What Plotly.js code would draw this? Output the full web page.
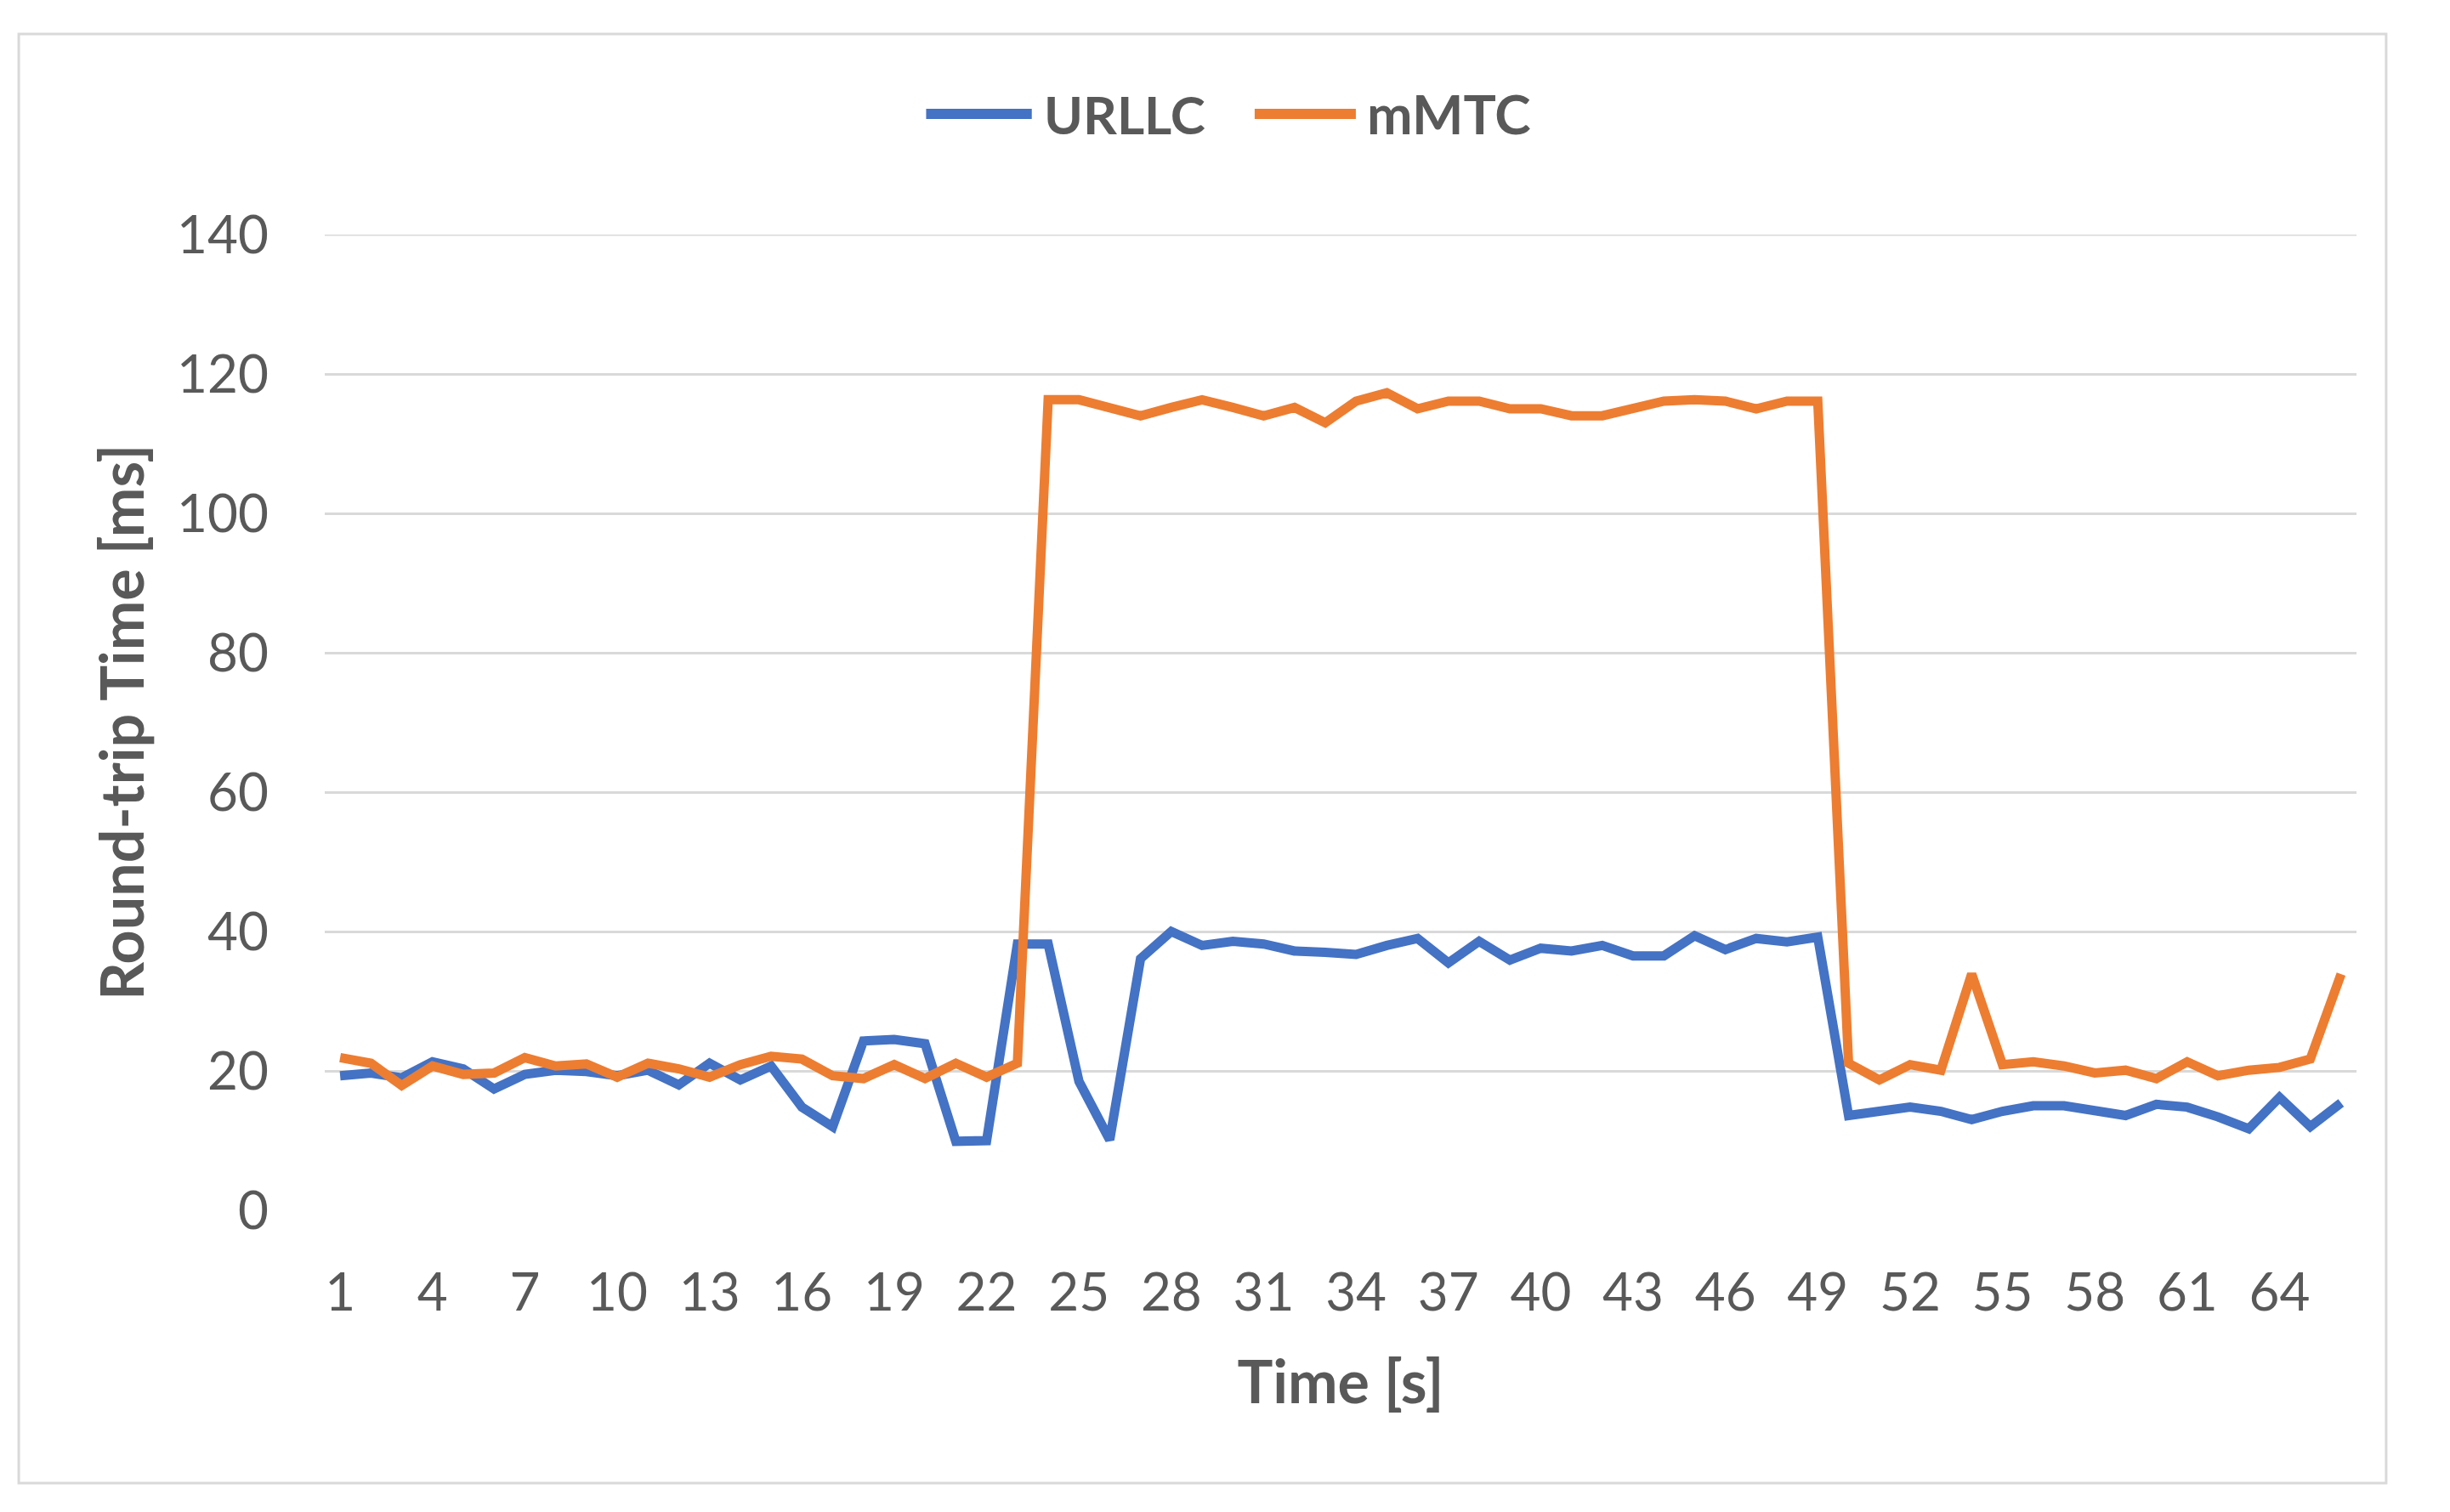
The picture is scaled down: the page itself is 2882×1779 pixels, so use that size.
<!DOCTYPE html>
<html>
<head>
<meta charset="utf-8">
<script src="https://cdn.plot.ly/plotly-3.0.1.min.js"></script>
<style>
  html, body { margin: 0; padding: 0; background: #ffffff; }
  #chart { width: 2882px; height: 1779px; }
</style>
</head>
<body>
<div id="chart"></div>
<script>
// Time [s] categories
const timeSeconds = [1,2,3,4,5,6,7,8,9,10,11,12,13,14,15,16,17,18,19,20,21,22,23,24,25,26,27,28,29,30,31,32,33,34,35,36,37,38,39,40,41,42,43,44,45,46,47,48,49,50,51,52,53,54,55,56,57,58,59,60,61,62,63,64,65,66];

// Round-trip time [ms]
const urllc = [19.3,19.7,19.0,21.3,20.3,17.4,19.5,20.1,19.9,19.3,20.1,18.0,21.1,18.7,20.7,14.8,12.0,24.3,24.5,23.9,9.9,10.0,38.2,38.2,18.5,10.1,36.1,40.0,38.0,38.6,38.2,37.2,37.0,36.7,38.0,39.0,35.5,38.6,35.9,37.6,37.2,38.0,36.5,36.5,39.4,37.4,39.0,38.5,39.2,13.6,14.2,14.8,14.2,13.0,14.2,15.0,15.0,14.4,13.6,15.2,14.8,13.4,11.7,16.2,12.0,15.4];
const mmtc = [21.9,21.1,17.9,20.7,19.5,19.7,21.9,20.7,21.0,19.1,21.1,20.3,19.1,20.9,22.1,21.7,19.3,18.9,20.9,18.9,21.1,19.1,21.1,116.3,116.3,115.2,114.0,115.2,116.3,115.2,114.0,115.2,113.0,116.1,117.3,115.0,116.1,116.1,115.0,115.0,114.0,114.0,115.0,116.1,116.3,116.1,115.0,116.1,116.1,21.1,18.7,20.9,20.1,33.9,20.9,21.3,20.7,19.7,20.1,18.9,21.3,19.3,20.1,20.5,21.7,33.9];

// Axis ticks
const xTickValues = [1,4,7,10,13,16,19,22,25,28,31,34,37,40,43,46,49,52,55,58,61,64];
const xTickLabels = ['1','4','7','10','13','16','19','22','25','28','31','34','37','40','43','46','49','52','55','58','61','64'];
const yTickValues = [0,20,40,60,80,100,120,140];
const yMax = 140;

const seriesNames = ['URLLC', 'mMTC'];
const seriesColors = ['#4472C4', '#ED7D31'];

const textColor = '#595959';
const gridColor = '#D9D9D9';
const fontFamily = 'Lato, "Open Sans", sans-serif';

const traces = [
  { x: timeSeconds, y: urllc, name: seriesNames[0], type: 'scatter', mode: 'lines',
    line: { color: seriesColors[0], width: 11 } },
  { x: timeSeconds, y: mmtc, name: seriesNames[1], type: 'scatter', mode: 'lines',
    line: { color: seriesColors[1], width: 11 } }
];

const legendY = 1.1237;
const layout = {
  width: 2882, height: 1779,
  paper_bgcolor: '#ffffff', plot_bgcolor: '#ffffff',
  margin: { l: 382, r: 110, t: 276, b: 355 },
  showlegend: false,
  font: { family: fontFamily, color: textColor, size: 62 },
  xaxis: {
    type: 'linear', range: [0.5, 66.5],
    tickmode: 'array', tickvals: xTickValues, ticktext: xTickLabels,
    showgrid: false, zeroline: false, showline: false, ticks: '',
    ticklabelstandoff: 55,
    tickfont: { family: fontFamily, size: 62, color: textColor },
    title: { text: '<b>Time [s]</b>', standoff: 47,
             font: { family: fontFamily, size: 70, color: textColor } },
    automargin: false
  },
  yaxis: {
    range: [0, yMax], tickmode: 'array', tickvals: yTickValues,
    showgrid: true, gridcolor: gridColor, gridwidth: 3,
    zeroline: false, showline: false, ticks: '',
    ticklabelstandoff: 65,
    tickfont: { family: fontFamily, size: 62, color: textColor },
    title: { text: '<b>Round-trip Time [ms]</b>', standoff: 15,
             font: { family: fontFamily, size: 70, color: textColor } },
    automargin: false
  },
  shapes: [
    { type: 'rect', xref: 'paper', yref: 'paper', x0: -0.1506, x1: 1.0146, y0: -0.2796, y1: 1.2056,
      line: { color: gridColor, width: 3 }, fillcolor: 'rgba(0,0,0,0)', layer: 'below' },
    // top gridline at the axis maximum
    { type: 'line', xref: 'paper', yref: 'y', x0: 0, x1: 1, y0: yMax, y1: yMax,
      line: { color: gridColor, width: 3 }, layer: 'below' },
    { type: 'line', xref: 'paper', yref: 'paper', x0: 0.296, x1: 0.348, y0: legendY, y1: legendY,
      line: { color: seriesColors[0], width: 12 } },
    { type: 'line', xref: 'paper', yref: 'paper', x0: 0.4577, x1: 0.5075, y0: legendY, y1: legendY,
      line: { color: seriesColors[1], width: 12 } }
  ],
  annotations: [
    { xref: 'paper', yref: 'paper', x: 0.353, y: legendY, xanchor: 'left', yanchor: 'middle',
      text: '<b>' + seriesNames[0] + '</b>', showarrow: false,
      font: { family: fontFamily, size: 62, color: textColor } },
    { xref: 'paper', yref: 'paper', x: 0.512, y: legendY, xanchor: 'left', yanchor: 'middle',
      text: '<b>' + seriesNames[1] + '</b>', showarrow: false,
      font: { family: fontFamily, size: 64, color: textColor } }
  ]
};

Plotly.newPlot('chart', traces, layout, { staticPlot: true, displayModeBar: false });
</script>
</body>
</html>
